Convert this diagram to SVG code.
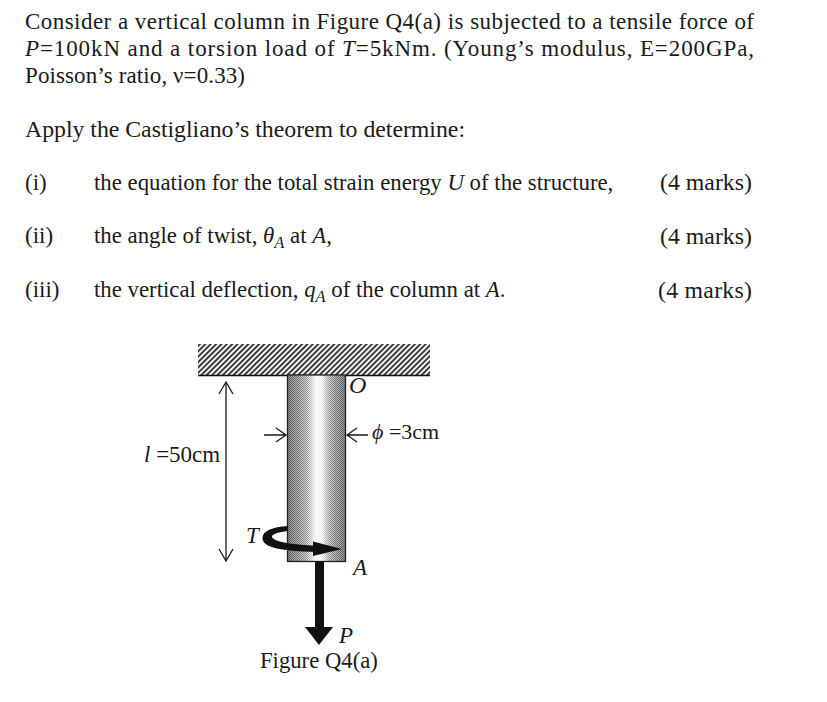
<svg xmlns="http://www.w3.org/2000/svg" width="827" height="702" viewBox="0 0 827 702">
<style>
text{font-family:"Liberation Serif","Times New Roman",serif;font-size:23px;fill:#1a1a1a}
.i{font-style:italic}
.sub{font-style:italic;font-size:16.5px}
.big{font-size:23.800px}
.lab{font-size:23px}
.dim{stroke:#1a1a1a;stroke-width:1.3;fill:none}
</style>
<defs>
<pattern id="hatch" width="3.800" height="3.800" patternUnits="userSpaceOnUse" patternTransform="rotate(-45)">
<rect width="3.800" height="3.800" fill="#f4f4f4"/>
<rect width="3.800" height="1.900" fill="#3a3a3a"/>
</pattern>
<pattern id="dither" width="2" height="2" patternUnits="userSpaceOnUse">
<rect width="1" height="1" fill="#000" fill-opacity="0.28"/>
<rect x="1" y="1" width="1" height="1" fill="#000" fill-opacity="0.28"/>
<rect x="1" width="1" height="1" fill="#fff" fill-opacity="0.2"/>
<rect y="1" width="1" height="1" fill="#fff" fill-opacity="0.2"/>
</pattern>
<linearGradient id="cyl" x1="0" x2="1" y1="0" y2="0">
<stop offset="0" stop-color="#7a7a7a"/>
<stop offset="0.25" stop-color="#b4b4b4"/>
<stop offset="0.46" stop-color="#fafafa"/>
<stop offset="0.6" stop-color="#f6f6f6"/>
<stop offset="0.8" stop-color="#b0b0b0"/>
<stop offset="1" stop-color="#777"/>
</linearGradient>
<linearGradient id="mask" x1="0" x2="1" y1="0" y2="0">
<stop offset="0" stop-color="#fff"/>
<stop offset="0.35" stop-color="#fff"/>
<stop offset="0.5" stop-color="#000"/>
<stop offset="0.58" stop-color="#000"/>
<stop offset="0.72" stop-color="#fff"/>
<stop offset="1" stop-color="#fff"/>
</linearGradient>
<mask id="edges" maskUnits="userSpaceOnUse" x="287" y="375" width="59" height="187"><rect x="287" y="375" width="59" height="187" fill="url(#mask)"/></mask>
</defs>
<rect width="827" height="702" fill="#fff"/>
<g id="question">
<text x="25" y="29" textLength="729" lengthAdjust="spacing">Consider a vertical column in Figure Q4(a) is subjected to a tensile force of</text>
<text x="25" y="56" textLength="729" lengthAdjust="spacing"><tspan class="i">P</tspan>=100kN and a torsion load of <tspan class="i">T</tspan>=5kNm. (Young’s modulus, E=200GPa,</text>
<text x="25" y="83" textLength="220" lengthAdjust="spacing">Poisson’s ratio, ν=0.33)</text>
<text class="big" x="25" y="137" textLength="440" lengthAdjust="spacing">Apply the Castigliano’s theorem to determine:</text>
<text x="25" y="190">(i)</text>
<text x="94" y="190" style="font-size:22.800px">the equation for the total strain energy <tspan class="i">U</tspan> of the structure,</text>
<text class="big" x="660" y="190" textLength="92" lengthAdjust="spacing">(4 marks)</text>
<text x="25" y="243">(ii)</text>
<text x="94" y="243" style="font-size:22.800px">the angle of twist, <tspan class="i">θ</tspan><tspan class="sub" dy="5">A</tspan><tspan dy="-5"> at </tspan><tspan class="i">A</tspan>,</text>
<text class="big" x="660" y="244" textLength="92" lengthAdjust="spacing">(4 marks)</text>
<text x="25" y="297">(iii)</text>
<text x="94" y="297" style="font-size:22.800px">the vertical deflection, <tspan class="i">q</tspan><tspan class="sub" dy="5">A</tspan><tspan dy="-5"> of the column at </tspan><tspan class="i">A</tspan>.</text>
<text class="big" x="658" y="298" textLength="94" lengthAdjust="spacing">(4 marks)</text>
</g>
<g id="support">
<rect x="198" y="344" width="232" height="31" fill="url(#hatch)"/>
<line x1="198" y1="375.500" x2="430" y2="375.500" stroke="#111" stroke-width="1.5"/>
</g>
<g id="column">
<rect x="287.500" y="375" width="58" height="186.500" fill="url(#cyl)"/>
<rect x="287.500" y="375" width="58" height="186.500" fill="url(#dither)" mask="url(#edges)"/>
<rect x="287.500" y="375" width="58" height="186.500" fill="none" stroke="#222" stroke-width="1.3"/>
</g>
<g id="connectors">
<g id="length-dimension" class="dim">
<path d="M226 383V561"/>
<path d="M219 394L226 382L233 394"/>
<path d="M219 549L226 561L233 549"/>
</g>
<g id="diameter-left" class="dim"><path d="M264 435H285M276 428L286 435L276 442"/></g>
<g id="diameter-right" class="dim"><path d="M347 435H368M357 428L347 435L357 442"/></g>
<g id="torque">
<path d="M288 526C272 527 262.500 531 262.500 538C262.500 548 282 551 316 552L316 545.500C296 545 272 542 272 536.500C272 534 279 532 288 531Z" fill="#111"/>
<path d="M313 541.500L342 549L313 556Z" fill="#111"/>
</g>
<g id="force-p">
<rect x="315" y="561" width="9" height="68" fill="#111"/>
<path d="M305 627H333L319 645Z" fill="#111"/>
</g>
</g>
<g id="labels">
<text class="i lab" x="349" y="393" style="font-size:24px">O</text>
<text x="372" y="439" style="font-size:22px"><tspan class="i">ϕ</tspan> =3cm</text>
<text class="lab" x="144" y="462"><tspan class="i">l</tspan> =50cm</text>
<text class="i lab" x="246" y="543">T</text>
<text class="i lab" x="353" y="575">A</text>
<text class="i lab" x="339" y="643">P</text>
<text x="260" y="668" style="font-size:22.700px">Figure Q4(a)</text>
</g>
</svg>
